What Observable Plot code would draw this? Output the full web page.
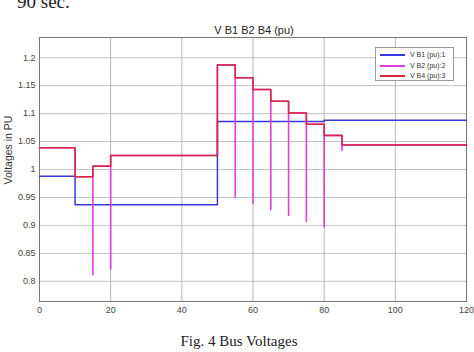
<!DOCTYPE html>
<html><head><meta charset="utf-8">
<script src="https://cdn.jsdelivr.net/npm/d3@7"></script>
<script src="https://cdn.jsdelivr.net/npm/@observablehq/plot@0.6"></script>
<style>
body{margin:0;background:#fff;}
#wrap{position:relative;width:474px;height:352px;overflow:hidden;background:#fff;}
#wrap svg{position:absolute;left:0;top:0;}
.abs{position:absolute;white-space:nowrap;}
#top{left:17px;top:-8px;font:19px "Liberation Serif","Times New Roman",serif;color:#222;line-height:1;}
#title{left:0;width:508px;text-align:center;top:25px;font:11px "Liberation Sans",Arial,sans-serif;color:#222;line-height:1;}
#cap{left:0;width:478px;text-align:center;top:334px;font:15px "Liberation Serif","Times New Roman",serif;color:#222;line-height:1;}
#ylab{left:8px;top:150px;transform:translate(-50%,-50%) rotate(-90deg);font:10.5px "Liberation Sans",Arial,sans-serif;color:#333;line-height:1;}
#legend{left:375px;top:47px;width:79px;height:34px;border:1px solid #999;background:#fff;box-sizing:border-box;}
.row{position:absolute;left:0;height:10px;}
.row i{position:absolute;left:4px;top:4px;width:25px;height:2px;}
.row span{position:absolute;left:34px;top:0;font:7px "Liberation Sans",Arial,sans-serif;color:#333;line-height:10px;}
</style></head>
<body>
<div id="wrap">
  <div id="chart"></div>
  <div class="abs" id="top">90 sec.</div>
  <div class="abs" id="title">V B1 B2 B4 (pu)</div>
  <div class="abs" id="ylab">Voltages in PU</div>
  <div class="abs" id="legend"></div>
  <div class="abs" id="cap">Fig. 4 Bus Voltages</div>
</div>
<script>
// Tick values
const xTicks = [0, 20, 40, 60, 80, 100, 120];
const yTicks = [0.8, 0.85, 0.9, 0.95, 1, 1.05, 1.1, 1.15, 1.2];

// V B1 (pu): step times and levels
const b1Times  = [0, 10, 50, 80, 120];
const b1Values = [0.988, 0.937, 1.086, 1.088, 1.088];

// V B4 (pu): step times and levels
const b4Times  = [0, 10, 15, 20, 50, 55, 60, 65, 70, 75, 80, 85, 120];
const b4Values = [1.039, 0.987, 1.006, 1.025, 1.187, 1.164, 1.143, 1.122, 1.101, 1.081, 1.061, 1.044, 1.044];

// V B2 (pu): levels (lie under B4) and transient dips at switching times
const b2Times  = [0, 10, 15, 20, 50, 55, 60, 65, 70, 75, 80, 85, 120];
const b2Values = [1.039, 0.987, 1.006, 1.025, 1.187, 1.164, 1.143, 1.122, 1.101, 1.081, 1.061, 1.044, 1.044];
const b2Dips   = [null, null, 0.812, 0.822, null, 0.951, 0.939, 0.928, 0.918, 0.907, 0.897, 1.034, null];

const seriesNames  = ["V B1 (pu):1", "V B2 (pu):2", "V B4 (pu):3"];
const seriesColors = ["#3838dc", "#e03ce0", "#d82840"];

const b1 = b1Times.map((t, i) => ({t, v: b1Values[i]}));
const b4 = b4Times.map((t, i) => ({t, v: b4Values[i]}));
const b2 = [];
b2Times.forEach((t, i) => {
  if (i > 0) {
    b2.push({t, v: b2Values[i - 1]});
    if (b2Dips[i] != null) b2.push({t, v: b2Dips[i]});
  }
  b2.push({t, v: b2Values[i]});
});

const fmt = d => String(+d.toFixed(2));

const chart = Plot.plot({
  width: 474, height: 352,
  marginLeft: 39, marginRight: 8, marginTop: 37, marginBottom: 51,
  style: {fontFamily: '"Liberation Sans", Arial, sans-serif', fontSize: "9px", color: "#333", background: "transparent"},
  x: {domain: [0, 120]},
  y: {domain: [0.764, 1.236]},
  marks: [
    Plot.gridX(xTicks, {stroke: "#999", strokeOpacity: 0.7}),
    Plot.gridY(yTicks, {stroke: "#aaa", strokeOpacity: 0.7}),
    Plot.frame({stroke: "#777"}),
    Plot.axisX(xTicks, {tickSize: 0, tickPadding: 5, label: null, fill: "#444"}),
    Plot.axisY(yTicks, {tickSize: 0, tickPadding: 4, label: null, tickFormat: fmt, fill: "#444"}),
    Plot.line(b1, {x: "t", y: "v", curve: "step-after", stroke: seriesColors[0], strokeWidth: 1.5}),
    Plot.line(b2, {x: "t", y: "v", stroke: seriesColors[1], strokeWidth: 1.6}),
    Plot.line(b4, {x: "t", y: "v", curve: "step-after", stroke: seriesColors[2], strokeWidth: 1.5})
  ]
});
document.getElementById("chart").appendChild(chart);

const legend = document.getElementById("legend");
seriesNames.forEach((name, i) => {
  const row = document.createElement("div");
  row.className = "row";
  row.style.top = (2 + i * 10.5) + "px";
  row.style.width = "100%";
  const line = document.createElement("i");
  line.style.background = seriesColors[i];
  const label = document.createElement("span");
  label.textContent = name;
  row.appendChild(line); row.appendChild(label);
  legend.appendChild(row);
});
</script>
</body></html>
